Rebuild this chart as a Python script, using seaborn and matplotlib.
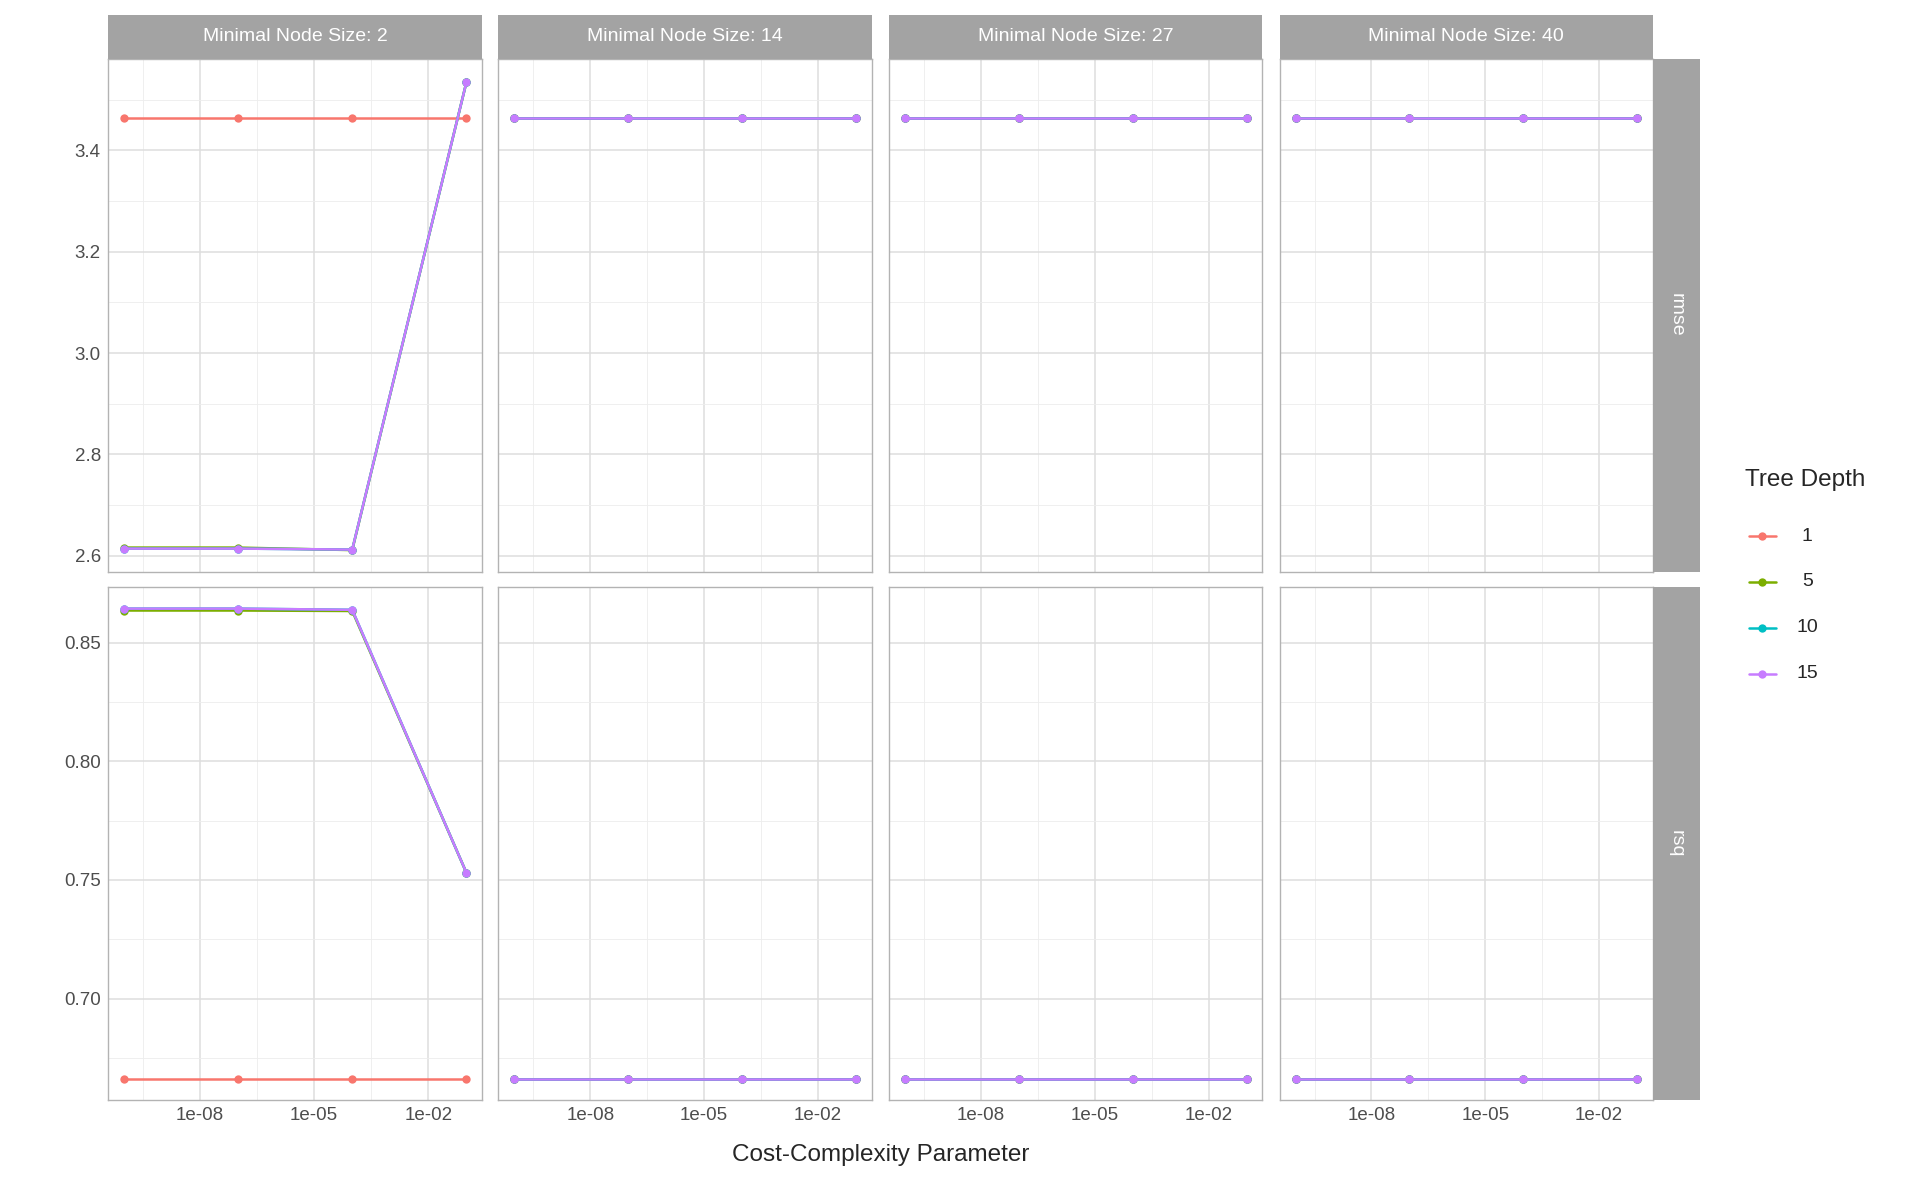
import numpy as np
import pandas as pd
import matplotlib
matplotlib.use("Agg")
import matplotlib.pyplot as plt
import seaborn as sns
from matplotlib.ticker import FixedLocator, FuncFormatter, NullFormatter

sns.set_style("white")
plt.rcParams['font.family'] = ['Liberation Sans', 'DejaVu Sans']

cost = [1e-10, 1e-7, 1e-4, 1e-1]
node_sizes = [2, 14, 27, 40]
depths = [1, 5, 10, 15]
colors = ['#F8766D', '#7CAE00', '#00BFC4', '#C77CFF']

# rmse / rsq by node size and depth (values along cost)
rmse_n2 = {1: [3.465, 3.465, 3.465, 3.465],
           5: [2.616, 2.616, 2.611, 3.535],
           10: [2.614, 2.614, 2.612, 3.535],
           15: [2.614, 2.614, 2.612, 3.535]}
rsq_n2 = {1: [0.666, 0.666, 0.666, 0.666],
          5: [0.8635, 0.8635, 0.8633, 0.753],
          10: [0.8643, 0.8643, 0.8638, 0.753],
          15: [0.8643, 0.8643, 0.8638, 0.753]}
rmse_other = [3.465, 3.465, 3.465, 3.465]
rsq_other = [0.666, 0.666, 0.666, 0.666]

rows = []
for n in node_sizes:
    for d in depths:
        r = rmse_n2[d] if n == 2 else rmse_other
        q = rsq_n2[d] if n == 2 else rsq_other
        for c, a, b in zip(cost, r, q):
            rows.append(dict(node=n, depth=d, cost=c, metric='rmse', value=a))
            rows.append(dict(node=n, depth=d, cost=c, metric='rsq', value=b))
df = pd.DataFrame(rows)

W, H = 1568, 969
fig = plt.figure(figsize=(19.2, 11.86), dpi=100)
def box(x0, y0, x1, y1):
    return fig.add_axes([x0 / W, 1 - y1 / H, (x1 - x0) / W, (y1 - y0) / H])

cols_x = [(88, 394), (407, 712), (726, 1031), (1045, 1350)]
rows_y = [(48, 467), (480, 899)]
ylims = {'rmse': (2.5686, 3.581), 'rsq': (0.6572, 0.8732)}
ymaj = {'rmse': [2.6, 2.8, 3.0, 3.2, 3.4], 'rsq': [0.70, 0.75, 0.80, 0.85]}
ymin = {'rmse': [2.7, 2.9, 3.1, 3.3, 3.5], 'rsq': [0.675, 0.725, 0.775, 0.825, 0.875]}
xmaj = [1e-8, 1e-5, 1e-2]
xmin = [10 ** -9.5, 10 ** -6.5, 10 ** -3.5, 10 ** -0.5]
pal = dict(zip(depths, colors))
strip_col = '#A3A3A3'

for ri, metric in enumerate(['rmse', 'rsq']):
    for ci, n in enumerate(node_sizes):
        ax = box(cols_x[ci][0], rows_y[ri][0], cols_x[ci][1], rows_y[ri][1])
        sub = df[(df.node == n) & (df.metric == metric)]
        sns.lineplot(data=sub, x='cost', y='value', hue='depth', palette=pal,
                     marker='o', markersize=6, markeredgewidth=0, linewidth=1.8,
                     legend=False, ax=ax, zorder=3)
        ax.set_xscale('log')
        ax.set_xlim(10 ** -10.42, 10 ** -0.58)
        ax.set_ylim(*ylims[metric])
        ax.xaxis.set_major_locator(FixedLocator(xmaj))
        ax.xaxis.set_minor_locator(FixedLocator(xmin))
        ax.xaxis.set_minor_formatter(NullFormatter())
        ax.yaxis.set_major_locator(FixedLocator(ymaj[metric]))
        ax.yaxis.set_minor_locator(FixedLocator(ymin[metric]))
        ax.grid(which='major', color='#DEDEDE', linewidth=1.1)
        ax.grid(which='minor', color='#EDEDED', linewidth=0.6)
        ax.set_axisbelow(True)
        for s in ax.spines.values():
            s.set_color('#B3B3B3')
            s.set_linewidth(1.0)
        ax.set_xlabel('')
        ax.set_ylabel('')
        ax.tick_params(which='both', length=0, labelsize=13.5, colors='#4D4D4D', pad=5)
        if ri == 1:
            ax.xaxis.set_major_formatter(FuncFormatter(lambda v, p: '%.0e' % v))
        else:
            ax.set_xticklabels([])
        if ci == 0:
            ax.yaxis.set_major_formatter(FuncFormatter(
                lambda v, p, m=metric: ('%.1f' % v) if m == 'rmse' else ('%.2f' % v)))
        else:
            ax.set_yticklabels([])
        if ri == 0:
            st = box(cols_x[ci][0], 12, cols_x[ci][1], 48)
            st.set_facecolor(strip_col)
            st.set_xticks([]); st.set_yticks([])
            for s in st.spines.values():
                s.set_visible(False)
            st.text(0.5, 0.5, 'Minimal Node Size: %d' % n, color='white',
                    ha='center', va='center', fontsize=14, transform=st.transAxes)
        if ci == 3:
            st = box(1350, rows_y[ri][0], 1388, rows_y[ri][1])
            st.set_facecolor(strip_col)
            st.set_xticks([]); st.set_yticks([])
            for s in st.spines.values():
                s.set_visible(False)
            st.text(0.5, 0.5, metric, color='white', rotation=-90,
                    ha='center', va='center', fontsize=14, transform=st.transAxes)

fig.text(719 / W, 1 - 944 / H, 'Cost-Complexity Parameter', ha='center', va='center', fontsize=17.5)

# legend
fig.text(1425 / W, 1 - 392 / H, 'Tree Depth', ha='left', va='center', fontsize=17.5)
lg = box(1420, 420, 1520, 570)
lg.set_xlim(0, 100); lg.set_ylim(570, 420)
lg.axis('off')
for i, (d, c) in enumerate(zip(depths, colors)):
    y = 438 + i * 37.5
    lg.plot([8, 30], [y, y], color=c, linewidth=1.8)
    lg.plot([19], [y], 'o', color=c, markersize=6, markeredgewidth=0)
    lg.text(56, y, str(d), ha='center', va='center', fontsize=14)

fig.savefig('out.png', dpi=100)
